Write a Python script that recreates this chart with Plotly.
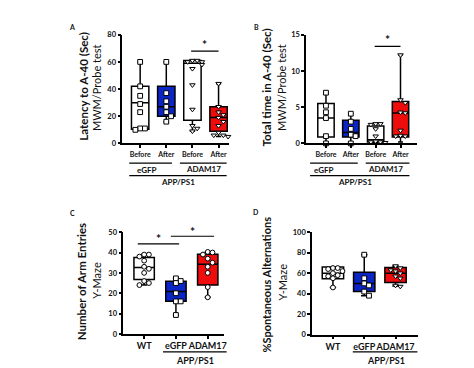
import plotly.graph_objects as go

W, H = 474, 368
FONT = "Lato"
INK = "#111111"
BLUE = "#0a24c6"
RED = "#ee0c0c"
WHITE = "#ffffff"

# ---------------- data ----------------
A_labels = ["Before", "After", "Before", "After"]
A_q1 = [10.5, 20, 17, 9]
A_med = [30, 27, 59, 19]
A_q3 = [42, 42, 61, 27]
A_lo = [10, 16, 9, 5]
A_hi = [60, 60, 61.5, 44]
A_points = [[60, 42, 35, 29, 23, 11, 11, 10],
            [60, 37, 31, 27, 23, 20, 16],
            [61, 61, 60, 60, 58, 55, 43, 25, 13, 11, 9],
            [44, 27, 23, 21, 19, 16, 13, 8, 6, 6, 5]]

B_labels = ["Before", "After", "Before", "After"]
B_q1 = [0.9, 0.9, 0.2, 0.9]
B_med = [3.5, 1.5, 0.5, 4.2]
B_q3 = [5.5, 3.2, 2.4, 5.8]
B_lo = [0, 0, 0, 0.2]
B_hi = [7, 4.1, 2.7, 12.2]
B_points = [[7, 5.2, 4.3, 3.5, 1, 0],
            [4.1, 3, 2, 1.2, 1.0, 0],
            [2.7, 2.7, 2.6, 2.0, 1.0, 0.3, 0.2, 0.2, 0.1],
            [12.2, 6, 5.6, 4.3, 4.2, 1.8, 1.1, 1.0, 1.0]]

C_labels = ["WT", "eGFP", "ADAM17"]
C_q1 = [26.8, 16, 24]
C_med = [32.7, 20.8, 34.2]
C_q3 = [37.5, 25.9, 39.2]
C_lo = [24, 9.3, 18]
C_hi = [39.2, 27.3, 40.3]
C_points = [[39, 39, 38, 36, 33, 32, 30, 26, 25, 24],
            [27.3, 26, 25, 20, 16, 16, 9.3],
            [40.3, 40, 39, 37, 35, 33, 30, 23, 18]]

D_labels = ["WT", "eGFP", "ADAM17"]
D_q1 = [54.6, 42, 50.8]
D_med = [60, 50, 60]
D_q3 = [66, 61, 65.5]
D_lo = [46, 38, 47.5]
D_hi = [66, 78, 67]
D_points = [[65, 65, 64, 62, 60, 58, 57, 55, 46],
            [78, 55, 50, 48, 42, 38],
            [67, 65, 63, 62, 60, 57, 55, 48, 47]]

# ---------------- layout geometry (pixels) ----------------
panels = [
    dict(n=1, labels=A_labels, q1=A_q1, med=A_med, q3=A_q3, lo=A_lo, hi=A_hi, pts=A_points,
         fills=[WHITE, BLUE, WHITE, RED], symbols=["square", "square", "triangle-down", "triangle-down"],
         xpx=(115, 222), ypx=(134.7, 23.3), yrange=(0, 80), yticks=[0, 20, 40, 60, 80],
         first=18, step=26.3, boxpx=17.5, catfont=7),
    dict(n=2, labels=B_labels, q1=B_q1, med=B_med, q3=B_q3, lo=B_lo, hi=B_hi, pts=B_points,
         fills=[WHITE, BLUE, WHITE, RED], symbols=["square", "square", "triangle-down", "triangle-down"],
         xpx=(300, 412), ypx=(134.7, 23.3), yrange=(0, 15), yticks=[0, 5, 10, 15],
         first=20, step=25, boxpx=16.5, catfont=7),
    dict(n=3, labels=C_labels, q1=C_q1, med=C_med, q3=C_q3, lo=C_lo, hi=C_hi, pts=C_points,
         fills=[WHITE, BLUE, RED], symbols=["circle", "square", "circle"],
         xpx=(116, 217), ypx=(330, 225.7), yrange=(0, 50), yticks=[0, 10, 20, 30, 40, 50],
         first=21, step=32, boxpx=20.5, catfont=9),
    dict(n=4, labels=D_labels, q1=D_q1, med=D_med, q3=D_q3, lo=D_lo, hi=D_hi, pts=D_points,
         fills=[WHITE, BLUE, RED], symbols=["circle", "square", "triangle-down"],
         xpx=(306, 413), ypx=(330.7, 225.7), yrange=(0, 100), yticks=[0, 20, 40, 60, 80, 100],
         first=21, step=31.5, boxpx=21.5, catfont=9),
]
PANEL = {p["n"]: p for p in panels}


def swarm(values, xc, px_per_x, px_per_y, msize=4.8, maxoff=None):
    """Simple beeswarm: spread overlapping points horizontally."""
    placed = []
    xs = []
    for v in values:
        k = 0
        while True:
            off = 0 if k == 0 else ((k + 1) // 2) * msize * (1 if k % 2 else -1)
            ok = True
            for (ox, oy) in placed:
                if ((ox - off) ** 2 + ((oy - v) * px_per_y) ** 2) < msize ** 2 * 0.85:
                    ok = False
                    break
            if ok or (maxoff is not None and abs(off) >= maxoff):
                break
            k += 1
        placed.append((off, v))
        xs.append(xc + off / px_per_x)
    return xs


fig = go.Figure()
layout = {}
axis_line = dict(showline=True, linecolor="black", linewidth=1.5, ticks="outside",
                 ticklen=3, tickwidth=1.5, tickcolor="black", showgrid=False,
                 zeroline=False)

for p in panels:
    n = p["n"]
    xa = "x" if n == 1 else f"x{n}"
    ya = "y" if n == 1 else f"y{n}"
    x0, x1 = p["xpx"]
    yb, yt = p["ypx"]
    lo_r, hi_r = p["yrange"]
    px_per_y = (yb - yt) / (hi_r - lo_r)
    xr = [-p["first"] / p["step"], (x1 - x0 - p["first"]) / p["step"]]
    bw = p["boxpx"] / p["step"]
    for i in range(len(p["labels"])):
        fig.add_trace(go.Box(
            x=[i], q1=[p["q1"][i]], median=[p["med"][i]], q3=[p["q3"][i]],
            lowerfence=[p["lo"][i]], upperfence=[p["hi"][i]],
            width=bw, whiskerwidth=0.3, fillcolor=p["fills"][i],
            line=dict(color="black", width=1.5), boxpoints=False,
            xaxis=xa, yaxis=ya, showlegend=False, hoverinfo="skip"))
        vals = p["pts"][i]
        xs = swarm(vals, i, p["step"], px_per_y, maxoff=p["boxpx"] / 2 - 1)
        fig.add_trace(go.Scatter(
            x=xs, y=vals, mode="markers", xaxis=xa, yaxis=ya, showlegend=False,
            cliponaxis=False, hoverinfo="skip",
            marker=dict(symbol=p["symbols"][i], size=4.8, color="white",
                        line=dict(color="black", width=1.0))))
    key = "" if n == 1 else str(n)
    layout["xaxis" + key] = dict(axis_line, domain=[x0 / W, x1 / W], range=xr,
                                 anchor=ya, tickvals=list(range(len(p["labels"]))),
                                 ticktext=p["labels"], tickangle=0,
                                 tickfont=dict(family=FONT, size=p["catfont"], color=INK, weight="bold"))
    layout["yaxis" + key] = dict(axis_line, domain=[1 - yb / H, 1 - yt / H], range=[lo_r, hi_r],
                                 anchor=xa, tickvals=p["yticks"],
                                 tickfont=dict(family=FONT, size=7.5, color=INK, weight="bold"))

annotations = []
shapes = []


def ptext(txt, px, py, size, bold=True, angle=0):
    annotations.append(dict(text=txt, x=px / W, y=1 - py / H, xref="paper", yref="paper",
                            showarrow=False, textangle=angle, xanchor="center", yanchor="middle",
                            font=dict(family=FONT, size=size, color=INK,
                                      weight="bold" if bold else "normal")))


def pline(px0, px1, py, width=1.3):
    shapes.append(dict(type="line", xref="paper", yref="paper", x0=px0 / W, x1=px1 / W,
                       y0=1 - py / H, y1=1 - py / H, line=dict(color="black", width=width)))


def ypaper(n, v):
    p = PANEL[n]
    yb, yt = p["ypx"]
    lo_r, hi_r = p["yrange"]
    py = yb - (v - lo_r) / (hi_r - lo_r) * (yb - yt)
    return 1 - py / H


def sig(n, x0, x1, yline, ystar):
    xa = "x" if n == 1 else f"x{n}"
    shapes.append(dict(type="line", xref=xa, yref="paper", x0=x0, x1=x1,
                       y0=ypaper(n, yline), y1=ypaper(n, yline),
                       line=dict(color="black", width=1.2)))
    annotations.append(dict(text="*", x=(x0 + x1) / 2, y=ypaper(n, ystar), xref=xa, yref="paper",
                            showarrow=False, yanchor="middle",
                            font=dict(family=FONT, size=12, color=INK, weight="bold")))


# panel letters
ptext("A", 64, 15, 7)
ptext("B", 250, 15, 7)
ptext("C", 65, 206, 7)
ptext("D", 250, 205, 7)

# y titles
ptext("Latency to A-40 (Sec)", 76, 77, 11.5, True, -90)
ptext("MWM/Probe test", 88.5, 77, 11, False, -90)
ptext("Total time in A-40 (Sec)", 260, 77, 11.5, True, -90)
ptext("MWM/Probe test", 274.5, 77, 11, False, -90)
ptext("Number of Arm Entries", 73.5, 277, 11.5, True, -90)
ptext("Y-Maze", 89, 275, 11, False, -90)
ptext("%Spontaneous Alternations", 260, 279, 11, True, -90)
ptext("Y-Maze", 276, 277, 11, False, -90)

# group labels panel A
pline(122, 165, 155)
pline(173, 220, 155)
pline(122, 220, 167.7)
ptext("eGFP", 140, 161.5, 8)
ptext("ADAM17", 197, 161, 8)
ptext("APP/PS1", 171, 174, 8)
# group labels panel B
pline(304, 352, 155)
pline(360, 404, 155)
pline(304, 404, 167.7)
ptext("eGFP", 318, 161.5, 8)
ptext("ADAM17", 380, 161, 8)
ptext("APP/PS1", 349, 174, 8)
# panel C
pline(156, 220, 348.3)
ptext("APP/PS1", 188, 357.5, 9)
# panel D
pline(347, 412, 348.3)
ptext("APP/PS1", 380, 357.5, 9)

# significance
sig(1, 1.95, 3.0, 68, 73)
sig(2, 1.96, 3.0, 13.4, 14.4)
sig(3, -0.2, 1.1, 44.3, 46.8)
sig(3, 0.84, 2.2, 48, 50.5)

fig.update_layout(width=W, height=H, margin=dict(l=0, r=0, t=0, b=0),
                  paper_bgcolor="white", plot_bgcolor="white", showlegend=False,
                  boxmode="overlay", annotations=annotations, shapes=shapes,
                  font=dict(family=FONT, color=INK), **layout)

fig.write_html("out.html")
